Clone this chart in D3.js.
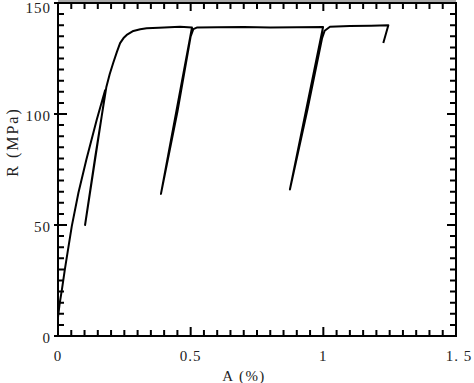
<!DOCTYPE html>
<html>
<head>
<meta charset="utf-8">
<script src="https://cdn.jsdelivr.net/npm/d3@7"></script>
<style>
  html, body { margin: 0; padding: 0; background: #fff; }
  svg { display: block; }
  .lbl { font-family: "Liberation Serif", "DejaVu Serif", serif; font-size: 15px; fill: #222; }
</style>
</head>
<body>
<svg id="chart"></svg>
<script>
// strain A (%) and stress R (MPa), in drawing order (load / unload / reload)
const strain = [
  0.000, 0.006, 0.015, 0.026, 0.052, 0.077, 0.107, 0.146, 0.177, 0.180,
  0.102,
  0.140, 0.182, 0.195, 0.208, 0.222, 0.234, 0.247, 0.259, 0.284, 0.310, 0.334, 0.380, 0.420, 0.460, 0.505,
  0.388,
  0.450, 0.500, 0.510, 0.525, 0.600, 0.700, 0.800, 0.900, 0.999,
  0.874,
  0.941, 0.995, 1.005, 1.025, 1.100, 1.180, 1.245, 1.226
];
const stress = [
  8.5, 14.4, 21.1, 30.1, 49.5, 64.5, 79.5, 97.4, 110.5, 111,
  50,
  80.5, 112, 118, 123, 128, 131.9, 134.2, 135.6, 137.4, 138.2, 138.6, 138.9, 139.1, 139.3, 139,
  64,
  101, 135, 138.2, 139, 139.1, 139.2, 139.0, 139.1, 139.2,
  66,
  102.5, 134, 137.5, 139.3, 139.6, 139.8, 140, 132
];

const xMajor = [0, 0.5, 1, 1.5];
const xMajorLabels = ["0", "0.5", "1", "1. 5"];
const yMajor = [0, 50, 100, 150];
const yMajorLabels = ["0", "50", "100", "150"];
const xTitle = "A (%)";
const yTitle = "R (MPa)";

const width = 474, height = 383;
const margin = { top: 3, right: 18, bottom: 47, left: 58 };

const svg = d3.select("#chart").attr("width", width).attr("height", height);

const x = d3.scaleLinear().domain([0, 1.5]).range([margin.left, width - margin.right]);
const y = d3.scaleLinear().domain([0, 150]).range([height - margin.bottom, margin.top]);

// grey strip above the frame (scan artefact in the original)
svg.append("rect")
  .attr("x", x(0)).attr("y", 0)
  .attr("width", x(1.5) - x(0)).attr("height", margin.top)
  .attr("fill", "#a9a9a9");

const xMinor = d3.range(0, 1.5001, 0.05).filter((v) => !xMajor.some((m) => Math.abs(m - v) < 1e-6));
const yMinor = d3.range(0, 150.01, 5).filter((v) => !yMajor.includes(Math.round(v)));

// tick marks pointing into the frame, built as one path
const p = d3.path();
const hTicks = (vals, y0, dir, len) => {
  vals.forEach((d) => { p.moveTo(x(d), y0); p.lineTo(x(d), y0 + dir * len); });
};
const vTicks = (vals, x0, dir, len, out = 0) => {
  vals.forEach((d) => { p.moveTo(x0 - dir * out, y(d)); p.lineTo(x0 + dir * len, y(d)); });
};
hTicks(xMinor, y(0), -1, 6);
hTicks(xMajor, y(0), -1, 9);
hTicks(xMinor, y(150), 1, 6);
hTicks(xMajor, y(150), 1, 8);
vTicks(yMinor, x(0), 1, 6);
vTicks(yMajor, x(0), 1, 9, 4);
vTicks(yMinor, x(1.5), -1, 6);
vTicks(yMajor, x(1.5), -1, 9);

svg.append("path")
  .attr("d", p.toString())
  .attr("fill", "none")
  .attr("stroke", "#000")
  .attr("stroke-width", 2);

// frame
svg.append("rect")
  .attr("x", x(0)).attr("y", y(150))
  .attr("width", x(1.5) - x(0)).attr("height", y(0) - y(150))
  .attr("fill", "none").attr("stroke", "#000").attr("stroke-width", 2);

// tick labels
svg.selectAll(".xlab")
  .data(xMajor)
  .enter()
  .append("text")
  .attr("class", "lbl")
  .attr("x", (d, i) => x(d) + (i === 3 ? 3 : 0))
  .attr("y", y(0) + 25)
  .attr("text-anchor", "middle")
  .attr("letter-spacing", 1)
  .text((d, i) => xMajorLabels[i]);

svg.selectAll(".ylab")
  .data(yMajor)
  .enter()
  .append("text")
  .attr("class", "lbl")
  .attr("x", x(0) - 7)
  .attr("y", (d) => Math.max(y(d) + 7, 13))
  .attr("text-anchor", "end")
  .attr("letter-spacing", 1)
  .text((d, i) => yMajorLabels[i]);

// axis titles
svg.append("text")
  .attr("class", "lbl")
  .attr("x", 244)
  .attr("y", 381)
  .attr("text-anchor", "middle")
  .attr("letter-spacing", 1.5)
  .text(xTitle);

svg.append("text")
  .attr("class", "lbl")
  .attr("transform", "translate(18,142) rotate(-90)")
  .attr("text-anchor", "middle")
  .attr("letter-spacing", 2)
  .style("font-size", "16px")
  .text(yTitle);

// the curve
const points = strain.map((a, i) => [a, stress[i]]);
const line = d3.line()
  .x((d) => x(d[0]))
  .y((d) => y(d[1]));

svg.append("path")
  .datum(points)
  .attr("d", line)
  .attr("fill", "none")
  .attr("stroke", "#000")
  .attr("stroke-width", 2)
  .attr("stroke-linejoin", "round");
</script>
</body>
</html>
